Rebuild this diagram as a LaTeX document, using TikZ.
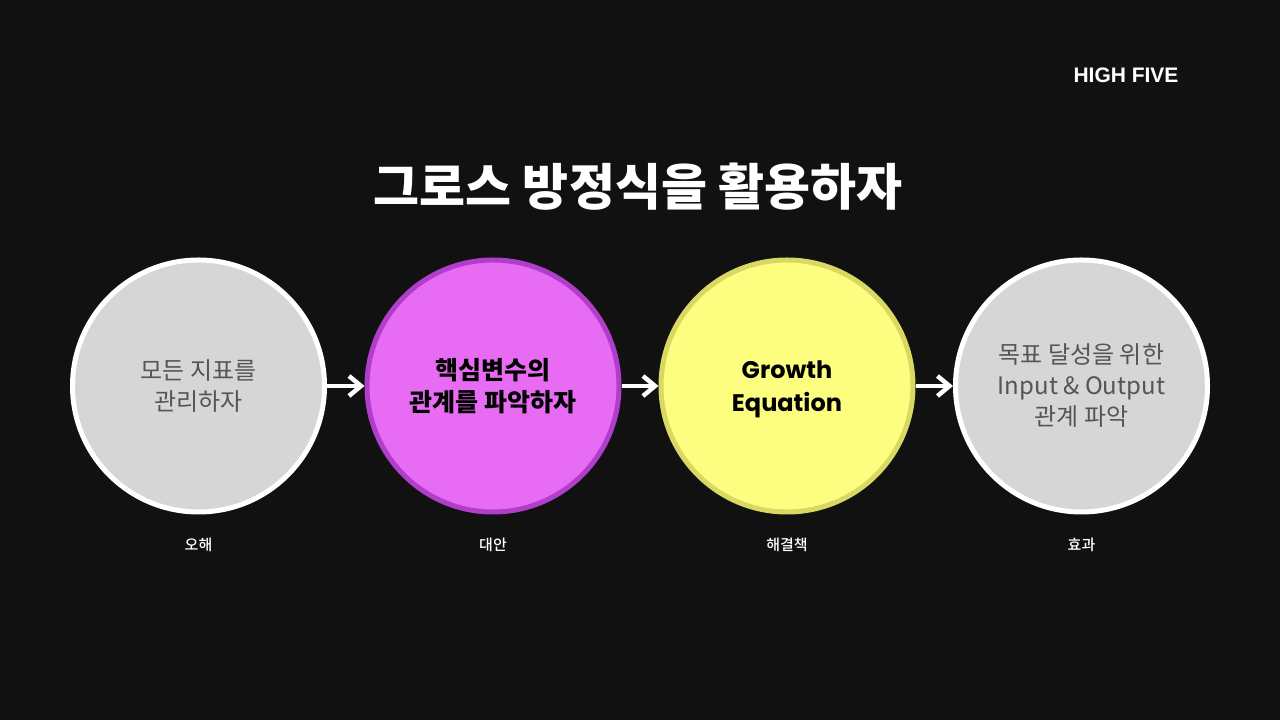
\documentclass[tikz,border=0pt]{standalone}
\usepackage{fontspec}
\setmainfont{Noto Sans CJK KR}
\newfontfamily\tagfont{Noto Sans CJK KR Medium}
\newfontfamily\logofont{Liberation Sans}
\newfontfamily\eqfont{Poppins}
\usepackage{xcolor}
\usetikzlibrary{arrows.meta,positioning}

\definecolor{bgcol}{HTML}{111111}
\definecolor{greyfill}{HTML}{D6D6D6}
\definecolor{greytext}{HTML}{555555}
\definecolor{magfill}{HTML}{E86CF3}
\definecolor{magline}{HTML}{B03ECA}
\definecolor{yelfill}{HTML}{FDFD80}
\definecolor{yelline}{HTML}{D8D862}

\begin{document}
\begin{tikzpicture}[x=1pt,y=1pt,
		stage/.style={circle,minimum size=252pt,inner sep=0pt,line width=5pt,align=center},
		greystage/.style={stage,draw=white,fill=greyfill,text=greytext,font=\fontsize{24}{31}\selectfont},
		magstage/.style={stage,draw=magline,fill=magfill,text=black,font=\bfseries\fontsize{25}{32}\selectfont},
		yelstage/.style={stage,draw=yelline,fill=yelfill,text=black,font=\eqfont\bfseries\fontsize{24}{33}\selectfont},
		flow/.style={draw=white,line width=4.5pt,-{Straight Barb[length=12pt,width=20pt]}},
		tag/.style={text=white,inner sep=0pt,font=\tagfont\fontsize{15}{18}\selectfont}]
		\fill[bgcol] (0,0) rectangle (1280,720);
		
		\node[text=white,font=\logofont\bfseries\fontsize{21}{24}\selectfont] (logo) at (1126,645) {HIGH FIVE};
		\node[text=white,font=\bfseries\fontsize{50}{60}\selectfont] (title) at (638,533) {그로스 방정식을 활용하자};
		
		\node[greystage] (c1) at (198.5,334) {모든 지표를\\관리하자};
		\node[magstage] (c2) at (493,334) {핵심변수의\\관계를 파악하자};
		\node[yelstage] (c3) at (787,334) {\rule{0pt}{24pt}Growth\\Equation};
		\node[greystage] (c4) at (1081.5,334) {목표 달성을 위한\\Input \& Output\\관계 파악};
		
		\draw[flow] (c1) -- (c2);
		\draw[flow] (c2) -- (c3);
		\draw[flow] (c3) -- (c4);
		
		\foreach \c/\t in {c1/오해,c2/대안,c3/해결책,c4/효과}
			\node[tag,below=23pt of \c] (\c tag) {\t};
\end{tikzpicture}
\end{document}
